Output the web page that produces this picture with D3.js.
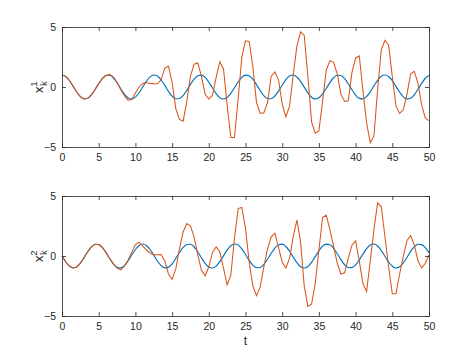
<!DOCTYPE html>
<html>
<head>
<meta charset="utf-8">
<script src="https://cdn.jsdelivr.net/npm/d3@7"></script>
<style>
  body { margin: 0; background: #fff; }
  text { font-family: "Liberation Sans", Arial, sans-serif; fill: #262626; }
</style>
</head>
<body>
<div id="chart"></div>
<script>
// time axis: 0 .. 50 in steps of 0.5
const tStep = 0.5;
const xTicks = [0, 5, 10, 15, 20, 25, 30, 35, 40, 45, 50];
const yTicks = [-5, 0, 5];

// state 1 - reference (blue) and estimate (orange)
const ref1 = [1.00, 0.88, 0.54, 0.07, -0.42, -0.80, -0.99, -0.94, -0.65, -0.21, 0.28, 0.71, 0.96, 0.98, 0.75, 0.35, -0.15, -0.60, -0.91, -1.00,
  -0.84, -0.48, 0.00, 0.48, 0.84, 1.00, 0.91, 0.59, 0.14, -0.36, -0.76, -0.98, -0.96, -0.71, -0.28, 0.22, 0.66, 0.94, 0.99, 0.80,
  0.41, -0.08, -0.55, -0.89, -1.00, -0.88, -0.53, -0.06, 0.42, 0.81, 0.99, 0.94, 0.65, 0.20, -0.29, -0.72, -0.96, -0.98, -0.75, -0.34,
  0.15, 0.61, 0.91, 1.00, 0.83, 0.47, -0.01, -0.49, -0.85, -1.00, -0.90, -0.58, -0.13, 0.37, 0.77, 0.98, 0.96, 0.70, 0.27, -0.23,
  -0.67, -0.95, -0.99, -0.79, -0.40, 0.09, 0.56, 0.89, 1.00, 0.88, 0.53, 0.05, -0.43, -0.82, -0.99, -0.94, -0.64, -0.19, 0.30, 0.73, 0.96];
const est1 = [1.00, 0.88, 0.54, 0.07, -0.42, -0.80, -0.99, -0.94, -0.65, -0.21, 0.28, 0.71, 0.96, 1.05, 0.85, 0.38, -0.20, -0.72, -1.10, -1.05,
  -0.50, 0.00, 0.30, 0.38, 0.30, 0.28, 0.27, 0.60, 1.55, 1.75, 0.40, -1.80, -2.70, -2.85, -1.20, 0.90, 1.90, 2.00, 0.90, -0.60,
  -1.00, -0.70, 0.80, 2.10, 1.50, -1.50, -4.20, -4.20, -1.00, 2.50, 3.85, 3.80, 1.70, -1.30, -2.20, -2.15, -1.30, 0.90, 1.25, 0.60,
  -1.40, -2.50, -1.60, 1.00, 3.40, 4.60, 4.30, 0.90, -2.90, -3.85, -3.65, -1.20, 1.40, 2.20, 2.05, 1.10, -0.60, -1.20, -1.15, 1.20,
  2.40, 2.60, -0.30, -3.00, -4.65, -4.10, -0.20, 3.10, 3.90, 3.50, 0.86, -1.60, -2.20, -1.90, -0.60, 1.10, 1.30, 0.30, -1.50, -2.60, -2.80];

// state 2 - reference (blue) and estimate (orange)
const ref2 = [0.00, -0.48, -0.84, -1.00, -0.91, -0.60, -0.14, 0.35, 0.76, 0.98, 0.96, 0.71, 0.28, -0.22, -0.66, -0.94, -0.99, -0.80, -0.41, 0.08,
  0.54, 0.88, 1.00, 0.88, 0.54, 0.07, -0.42, -0.80, -0.99, -0.93, -0.65, -0.20, 0.29, 0.71, 0.96, 0.98, 0.75, 0.35, -0.15, -0.61,
  -0.91, -1.00, -0.84, -0.47, 0.01, 0.49, 0.85, 1.00, 0.91, 0.59, 0.13, -0.37, -0.76, -0.98, -0.96, -0.70, -0.27, 0.23, 0.66, 0.94,
  0.99, 0.79, 0.40, -0.09, -0.55, -0.89, -1.00, -0.88, -0.53, -0.05, 0.43, 0.82, 0.99, 0.94, 0.64, 0.19, -0.30, -0.73, -0.96, -0.97,
  -0.75, -0.33, 0.16, 0.62, 0.92, 1.00, 0.83, 0.46, -0.02, -0.50, -0.85, -1.00, -0.90, -0.57, -0.12, 0.38, 0.77, 0.98, 0.95, 0.69, 0.26];
const est2 = [0.00, -0.48, -0.84, -1.00, -0.91, -0.60, -0.14, 0.35, 0.76, 0.98, 0.96, 0.71, 0.28, -0.21, -0.66, -1.00, -1.15, -0.85, -0.35, 0.30,
  0.95, 1.15, 0.85, 0.50, 0.25, 0.10, 0.10, 0.12, -0.40, -1.50, -1.95, -1.10, 0.60, 2.00, 2.70, 2.50, 1.60, 0.10, -1.20, -1.65,
  -0.90, 0.30, 0.75, 0.35, -1.00, -2.40, -1.60, 1.50, 3.95, 4.05, 2.30, -0.50, -2.50, -3.30, -2.60, -0.90, 0.60, 1.60, 1.90, 0.70,
  -0.50, -1.00, -0.20, 1.60, 3.00, 1.20, -2.50, -4.20, -4.00, -2.30, 0.50, 3.20, 3.40, 2.20, 0.80, -0.60, -1.50, -1.40, -0.20, 0.90,
  1.25, -0.40, -2.30, -2.95, -0.40, 2.20, 4.45, 4.10, 1.60, -0.90, -3.15, -3.15, -1.50, -0.05, 1.30, 1.70, 0.90, -0.40, -1.00, -0.60, 0.08];

const panels = [
  {sup: "1", ref: ref1, est: est1, top: 27},
  {sup: "2", ref: ref2, est: est2, top: 196}
];

const width = 474, height = 355;
const left = 62, right = 429, plotH = 120;
const blue = "#0072BD", orange = "#D95319", axisCol = "#262626";

const svg = d3.select("#chart").append("svg")
  .attr("width", width)
  .attr("height", height);

const x = d3.scaleLinear().domain([0, 50]).range([left, right]);

panels.forEach(p => {
  const y = d3.scaleLinear().domain([-5, 5]).range([p.top + plotH, p.top]);
  const g = svg.append("g");

  const line = d3.line()
    .x((d, i) => x(i * tStep))
    .y(d => y(d));

  g.append("path")
    .datum(p.ref)
    .attr("fill", "none")
    .attr("stroke", blue)
    .attr("stroke-width", 1.15)
    .attr("d", line.curve(d3.curveMonotoneX));

  g.append("path")
    .datum(p.est)
    .attr("fill", "none")
    .attr("stroke", orange)
    .attr("stroke-width", 1.05)
    .attr("d", line.curve(d3.curveLinear));

  // axes, ticks pointing inwards like matlab
  const ax = [
    g.append("g").attr("transform", `translate(0,${p.top + plotH})`).call(d3.axisBottom(x).tickValues(xTicks).tickSizeInner(-4).tickSizeOuter(0).tickPadding(7)),
    g.append("g").attr("transform", `translate(0,${p.top})`).call(d3.axisTop(x).tickValues(xTicks).tickSizeInner(-4).tickSizeOuter(0).tickFormat("")),
    g.append("g").attr("transform", `translate(${left},0)`).call(d3.axisLeft(y).tickValues(yTicks).tickSizeInner(-4).tickSizeOuter(0).tickPadding(6)),
    g.append("g").attr("transform", `translate(${right},0)`).call(d3.axisRight(y).tickValues(yTicks).tickSizeInner(-4).tickSizeOuter(0).tickFormat(""))
  ];
  ax.forEach(a => {
    a.selectAll("path").attr("stroke", axisCol).attr("stroke-width", 0.8);
    a.selectAll("line").attr("stroke", axisCol).attr("stroke-width", 0.8);
    a.selectAll("text").style("font-size", "10.5px").style("fill", axisCol)
      .style("font-family", "'Liberation Sans', Arial, sans-serif");
  });

  // y label x_k^n
  const lab = g.append("text")
    .attr("transform", `translate(43,${p.top + plotH / 2}) rotate(-90)`)
    .attr("text-anchor", "middle")
    .style("font-size", "13px");
  lab.append("tspan").text("x");
  lab.append("tspan").attr("dy", 3.5).attr("dx", 0.5).style("font-size", "9.5px").text("k");
  lab.append("tspan").attr("dx", -5.5).attr("dy", -10).style("font-size", "9.5px").text(p.sup);
});

svg.append("text")
  .attr("x", x(25))
  .attr("y", 345)
  .attr("text-anchor", "middle")
  .style("font-size", "12px")
  .text("t");
</script>
</body>
</html>
